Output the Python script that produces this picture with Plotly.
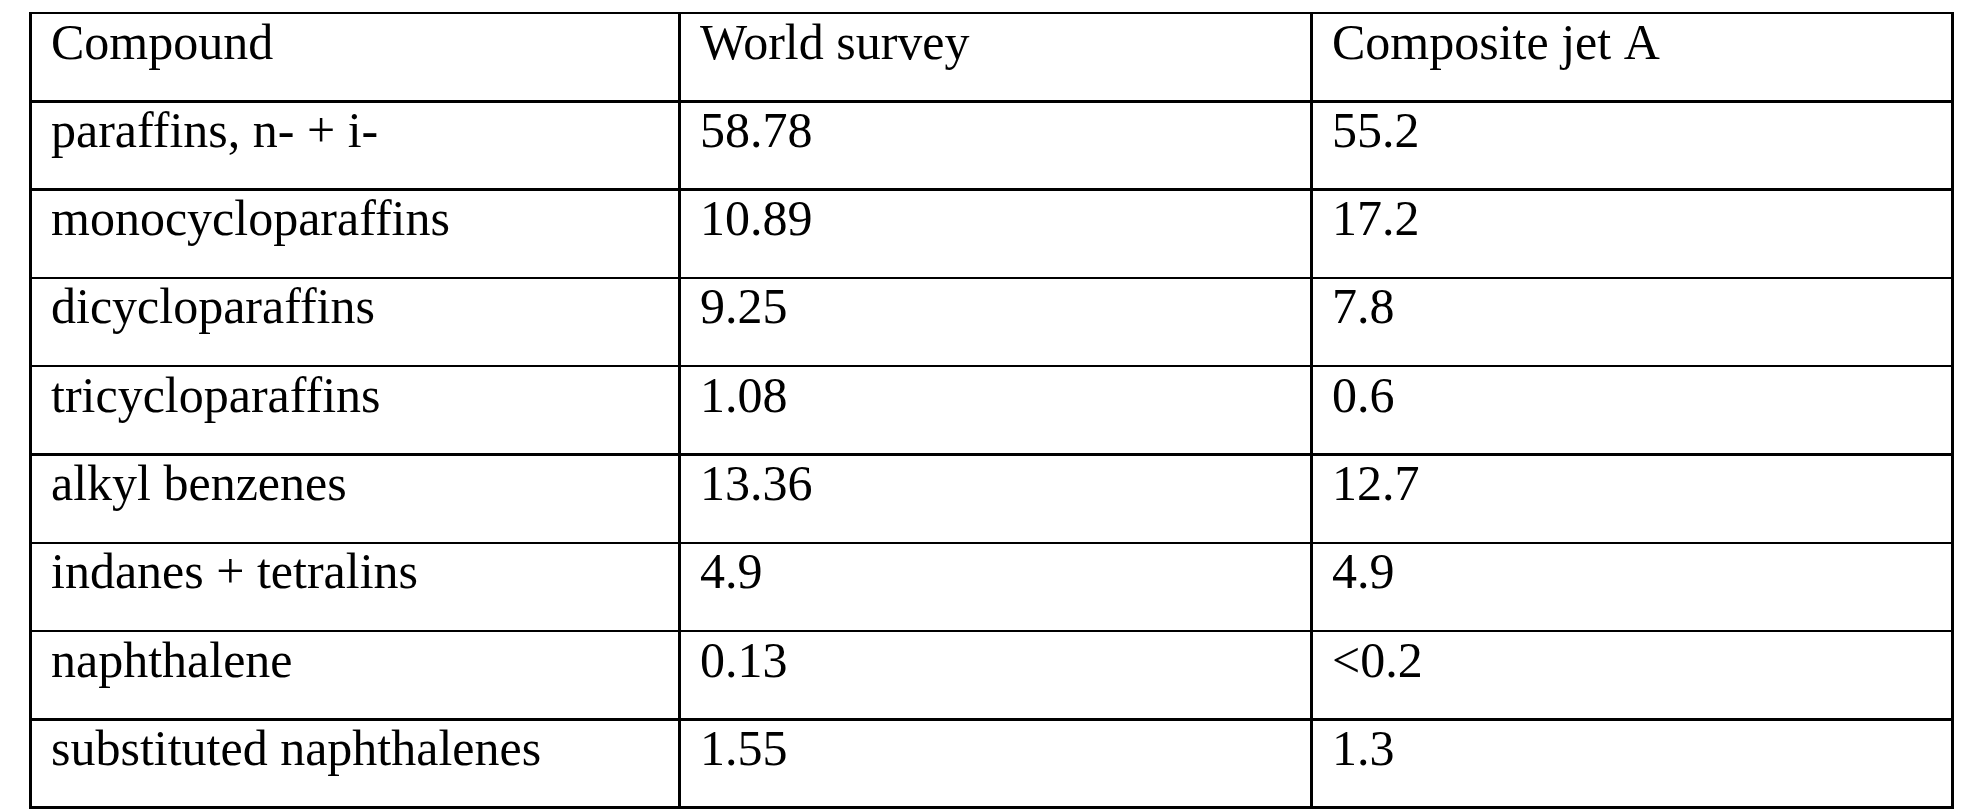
import plotly.graph_objects as go
import plotly.io as pio

headers = ["Compound", "World survey", "Composite jet A"]
compounds = [
    "paraffins, n- + i-",
    "monocycloparaffins",
    "dicycloparaffins",
    "tricycloparaffins",
    "alkyl benzenes",
    "indanes + tetralins",
    "naphthalene",
    "substituted naphthalenes",
]
world_survey = ["58.78", "10.89", "9.25", "1.08", "13.36", "4.9", "0.13", "1.55"]
composite_jet_a = ["55.2", "17.2", "7.8", "0.6", "12.7", "4.9", "<0.2", "1.3"]

W, H = 1962, 812
left, right, top = 22.5, 1944.5, 5
row_h = 88.3
font = dict(family="Liberation Serif", size=50, color="black")
NB = "\u00a0"


def split(s):
    # a leading "<" goes to the prefix so the cell is drawn as plain text
    s = s.replace(" ", NB)
    if s.startswith("<"):
        return NB + "<", s[1:]
    return NB, s


columns = [compounds, world_survey, composite_jet_a]
cell_prefix = [[split(v)[0] for v in col] for col in columns]
cell_values = [[split(v)[1] for v in col] for col in columns]

fig = go.Figure(go.Table(
    domain=dict(x=[left / W, right / W], y=[0, 1 - top / H]),
    columnwidth=[649, 632, 641],
    header=dict(
        values=[h.replace(" ", NB) for h in headers],
        prefix=NB,
        align="left",
        font=font,
        height=row_h,
        fill_color="white",
        line=dict(color="black", width=2.5),
    ),
    cells=dict(
        values=cell_values,
        prefix=NB,
        align="left",
        font=font,
        height=row_h,
        fill_color="white",
        line=dict(color="black", width=2.5),
    ),
))
fig.update_layout(
    width=W, height=H,
    margin=dict(l=0, r=0, t=0, b=0),
    paper_bgcolor="white",
    plot_bgcolor="white",
)

spec = fig.to_dict()
spec["data"][0]["cells"]["prefix"] = cell_prefix  # per-cell prefix grid
pio.write_html(spec, "out.html", validate=False)
